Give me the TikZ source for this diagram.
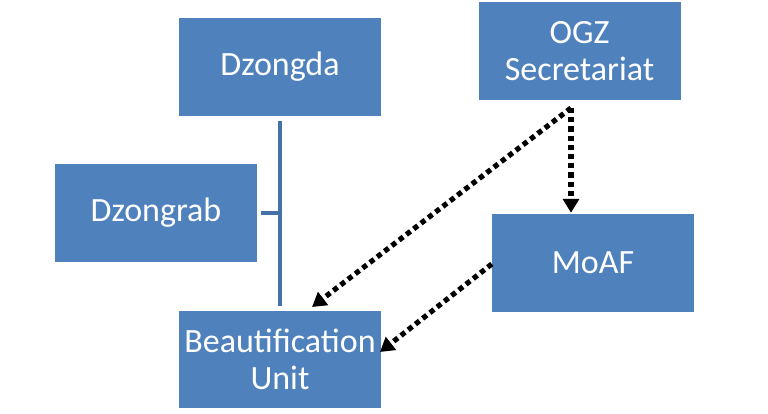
\documentclass[tikz,border=0pt]{standalone}
\usepackage{fontspec}
\setmainfont{Carlito}
\usetikzlibrary{arrows.meta,calc}
\definecolor{boxblue}{HTML}{4F81BD}
\definecolor{treeblue}{HTML}{4472A8}
\begin{document}
\begin{tikzpicture}[x=1pt,y=-1pt,
  orgbox/.style={fill=boxblue,draw=none,text=white,align=center,
    minimum width=202pt,minimum height=98pt,inner sep=0pt,
    font=\fontsize{34}{37}\selectfont},
  treeline/.style={draw=treeblue,line width=3.4pt},
  dotarrow/.style={draw=black,line width=5.2pt,dash pattern=on 5.2pt off 4pt,
    -{Triangle[length=14pt,width=16pt]}}]
\fill[white] (0,0) rectangle (768,414);
\node[orgbox] (dzongda) at (280,67) {Dzongda};
\node[orgbox] (dzongrab) at (156,213) {Dzongrab};
\node[orgbox] (ogz) at (579.5,51.5) {OGZ\\Secretariat};
\node[orgbox] (moaf) at (593,263) {MoAF};
\node[orgbox,minimum height=97pt] (beaut) at (280,359.5) {Beautification\\Unit};
% tree connectors
\draw[treeline,shorten <=5pt,shorten >=5pt] (dzongda.south) -- (beaut.north);
\draw[treeline,shorten <=4pt] (dzongrab.east) -- (dzongrab.east -| dzongda.south);
% dotted arrows
\coordinate (src) at (571,108);
\coordinate (bt) at (312,307);
\coordinate (be) at (380,352);
\draw[dotarrow] (src) -- ($(src |- moaf.north)+(0,-1)$);
\draw[dotarrow] (src) -- (bt);
\draw[dotarrow] ($(moaf.west)+(0,1)$) -- (be);
\end{tikzpicture}
\end{document}
